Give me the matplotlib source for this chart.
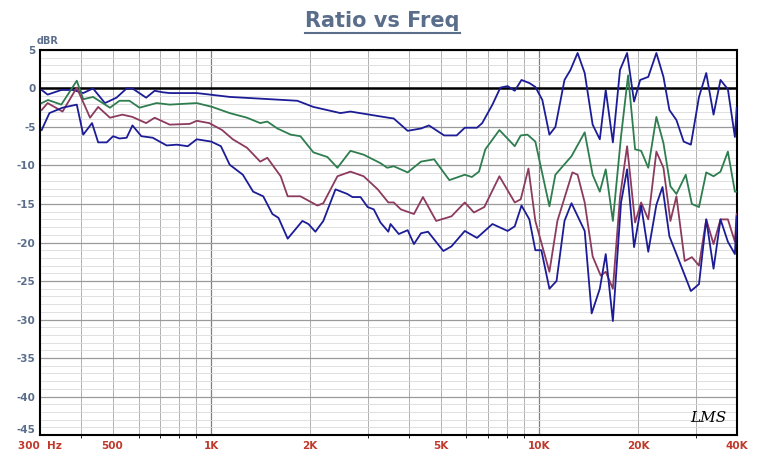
import numpy as np
import matplotlib.pyplot as plt
from matplotlib.ticker import FixedLocator, NullFormatter

# curve data (Hz, dBR)
f_a = [304, 317, 349, 379, 407, 436, 474, 514, 552, 575, 633, 672, 711, 747, 903, 1138, 1514,
       1830, 2048, 2477, 2657, 3466, 3600, 3970, 4360, 4610, 5130, 5600, 5930, 6460, 6700, 7200,
       7610, 8010, 8420, 8830, 9330, 9730, 10220, 10740, 11200, 11940, 12450, 13090, 13760,
       14550, 15300, 15950, 16770, 17630, 18530, 19460, 20310, 21500, 22760, 23920, 24940,
       26200, 27570, 29000, 30700, 32300, 34000, 35700, 37600, 39500, 40000]
db_a = [-0.2, -0.8, -0.2, -0.2, -0.6, 0.0, -1.9, -1.2, 0.0, 0.0, -1.2, -0.3, -0.5, -0.6, -0.6,
        -1.1, -1.4, -1.6, -2.4, -3.2, -3.0, -3.8, -3.9, -5.5, -5.2, -4.8, -6.1, -6.1, -5.1, -5.1,
        -4.5, -2.1, 0.1, 0.3, -0.3, 1.1, 0.7, 0.2, -1.5, -6.0, -5.0, 1.1, 2.4, 4.6, 2.0, -4.7,
        -6.6, -0.2, -7.0, 2.4, 4.6, -1.7, 1.1, 1.5, 4.6, 1.5, -2.8, -4.1, -6.9, -7.3, -1.1, 2.0,
        -3.4, 1.1, -0.1, -6.3, -2.5]

f_b = [304, 318, 349, 389, 407, 436, 491, 525, 563, 604, 681, 747, 903, 1007, 1138, 1285, 1410,
       1482, 1591, 1747, 1870, 2048, 2260, 2425, 2657, 2915, 3280, 3440, 3600, 3970, 4360, 4780,
       5320, 5930, 6230, 6550, 6850, 7560, 8420, 8780, 9210, 9730, 10740, 11200, 12540, 13760,
       14550, 15300, 15950, 16770, 17760, 18660, 19600, 20450, 21500, 22760, 23920, 25120, 26200,
       27970, 29200, 30700, 32300, 34000, 35700, 37600, 39500, 40000]
db_b = [-1.9, -1.5, -2.1, 1.0, -1.4, -1.1, -2.5, -1.6, -1.6, -2.5, -1.9, -2.1, -1.9, -2.4, -3.2,
        -3.8, -4.5, -4.3, -5.2, -6.0, -6.2, -8.3, -8.9, -10.3, -8.1, -8.6, -9.7, -10.3, -10.1,
        -10.9, -9.5, -9.2, -11.9, -11.2, -11.5, -10.8, -7.9, -5.4, -7.5, -6.1, -6.0, -6.9, -15.3,
        -11.2, -8.8, -5.7, -11.2, -13.4, -10.5, -17.2, -6.2, 1.7, -7.9, -8.1, -10.3, -3.7, -7.1,
        -12.7, -13.7, -11.2, -15.0, -15.4, -10.9, -11.4, -10.8, -8.2, -13.4, -13.4]

f_c = [304, 317, 352, 389, 427, 452, 491, 536, 575, 633, 672, 747, 860, 903, 986, 1079, 1163,
       1285, 1410, 1482, 1628, 1710, 1870, 2106, 2196, 2425, 2657, 2915, 3218, 3466, 3600, 3785,
       4150, 4420, 4850, 5400, 5930, 6320, 6800, 7560, 8420, 8780, 9270, 9730, 10740, 11360,
       12620, 13090, 13760, 14550, 15400, 15950, 16770, 17630, 18530, 19600, 20450, 21500, 22760,
       23920, 25120, 26200, 27770, 29200, 30700, 32300, 34000, 35700, 37600, 39500, 40000]
db_c = [-2.8, -1.9, -3.0, 0.1, -3.8, -2.4, -3.8, -3.4, -3.7, -4.5, -3.8, -4.7, -4.6, -4.2, -4.5,
        -5.4, -6.6, -7.7, -9.5, -9.0, -11.4, -14.0, -14.0, -15.2, -14.9, -11.4, -10.8, -11.4,
        -13.1, -14.8, -14.8, -15.7, -16.3, -14.1, -17.2, -16.6, -14.8, -16.1, -15.4, -11.4, -14.8,
        -14.4, -10.4, -17.2, -23.8, -17.2, -10.9, -11.2, -14.8, -21.8, -24.3, -23.8, -26.0, -14.1,
        -7.5, -17.4, -14.8, -17.0, -8.2, -10.3, -17.2, -14.0, -22.4, -21.9, -23.0, -17.0, -20.2,
        -17.0, -17.0, -19.9, -16.3]

f_d = [304, 321, 352, 389, 407, 433, 452, 480, 502, 525, 552, 575, 612, 663, 731, 785, 848, 903,
       1000, 1070, 1138, 1248, 1342, 1440, 1536, 1603, 1710, 1896, 1978, 2077, 2196, 2392, 2600,
       2694, 2852, 2998, 3130, 3280, 3466, 3520, 3730, 3970, 4150, 4360, 4580, 5100, 5400, 5930,
       6460, 7200, 8010, 8420, 8830, 9330, 9730, 10150, 10740, 11290, 11940, 12540, 13760, 14450,
       15300, 15950, 16770, 17760, 18530, 19460, 20450, 21500, 22760, 23760, 24940, 26200, 29000,
       30700, 32300, 34000, 35700, 37600, 39500, 40000]
db_d = [-5.4, -3.2, -2.5, -2.1, -6.0, -4.5, -7.0, -7.0, -6.2, -6.5, -6.4, -4.8, -6.2, -6.4, -7.4,
        -7.3, -7.5, -6.6, -6.9, -7.5, -9.9, -11.2, -13.4, -14.0, -16.3, -16.8, -19.5, -17.2, -17.6,
        -18.6, -17.2, -13.1, -13.7, -14.1, -14.1, -15.4, -15.7, -17.4, -18.6, -17.6, -18.9, -18.4,
        -20.2, -18.8, -18.6, -21.1, -20.5, -18.5, -19.4, -17.6, -18.5, -17.9, -15.2, -17.0, -21.0,
        -21.0, -26.0, -25.0, -17.2, -14.9, -18.5, -29.2, -26.0, -21.5, -30.2, -14.8, -10.5, -20.6,
        -15.2, -21.2, -15.1, -12.8, -19.2, -21.5, -26.3, -25.4, -17.0, -23.4, -17.0, -19.9, -21.5,
        -16.6]

navy = '#1c1c96'
fig = plt.figure(figsize=(7.65, 4.58), dpi=100)
ax = fig.add_axes([0.052, 0.050, 0.911, 0.841])
ax.set_xscale('log')
ax.set_xlim(300, 40000)
ax.set_ylim(-45, 5)

# grid
minor_x = [m * d for d in (100, 1000, 10000) for m in range(1, 10) if 300 <= m * d <= 40000]
for x in minor_x:
    ax.axvline(x, color='#b0b0b0', lw=0.7, zorder=0)
for x in (1000, 10000):
    ax.axvline(x, color='#808080', lw=0.9, zorder=0)
for y in range(-45, 6):
    ax.axhline(y, color='#dadada' if y % 5 else '#9a9a9a', lw=0.6 if y % 5 else 0.9, zorder=0)
ax.axhline(0, color='black', lw=1.8, zorder=1)

ax.plot(f_a, db_a, color=navy, lw=1.3, zorder=3)
ax.plot(f_b, db_b, color='#2e7d4f', lw=1.3, zorder=3)
ax.plot(f_c, db_c, color='#8c3a5e', lw=1.3, zorder=3)
ax.plot(f_d, db_d, color=navy, lw=1.3, zorder=3)

xt = [300, 500, 1000, 2000, 5000, 10000, 20000, 40000]
xl = ['300  Hz', '500', '1K', '2K', '5K', '10K', '20K', '40K']
ax.xaxis.set_major_locator(FixedLocator(xt))
ax.xaxis.set_minor_formatter(NullFormatter())
ax.set_xticklabels(xl, color='#c0392b', fontsize=7.5, fontweight='bold')
ax.set_yticks(range(-45, 6, 5))
ax.set_yticklabels([str(v) for v in range(-45, 6, 5)], color='#5a6e8c', fontsize=7.5, fontweight='bold')
ax.tick_params(axis='y', length=0, pad=3)
ax.tick_params(axis='x', length=0, pad=4)
ax.get_yticklabels()[0].set_va('bottom')
for s in ax.spines.values():
    s.set_linewidth(1.5)

fig.text(0.062, 0.9, 'dBR', color='#5a6e8c', fontsize=7, fontweight='bold', ha='center', va='bottom')
t = fig.text(0.5, 0.955, 'Ratio vs Freq', color='#5a6e8c', fontsize=15, fontweight='bold',
             ha='center', va='center')
fig.canvas.draw()
bb = t.get_window_extent().transformed(fig.transFigure.inverted())
fig.add_artist(plt.Line2D([bb.x0, bb.x1], [bb.y0 - 0.005, bb.y0 - 0.005], color='#5a6e8c', lw=1.5))
ax.text(0.985, 0.025, 'LMS', transform=ax.transAxes, ha='right', va='bottom', fontsize=11,
        fontstyle='italic', family='DejaVu Serif', color='black')

fig.savefig('out.png', dpi=100)
